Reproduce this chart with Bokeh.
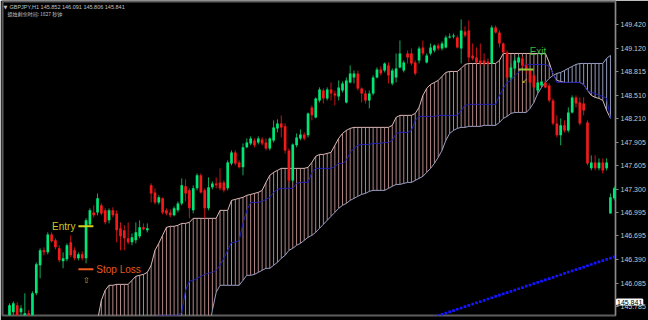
from bokeh.plotting import figure
from bokeh.models import Range1d, FixedTicker, PrintfTickFormatter, Label
from bokeh.core.properties import value
from bokeh.embed import file_html
from bokeh.resources import INLINE

# ---------------- data (GBPJPY H1) ----------------
open_ = [145.542, 145.709, 145.800, 145.709, 145.645, 145.696, 145.580, 145.954, 146.316, 146.509,
         146.483, 146.715, 146.638, 146.535, 146.367, 146.393, 146.612, 146.509, 146.406, 146.457,
         146.406, 146.844, 146.999, 146.999, 147.090, 147.025, 146.896, 147.025, 146.986, 146.793,
         146.767, 146.664, 146.612, 146.638, 146.690, 146.806, 146.767, 147.348, 147.257, 147.128,
         147.180, 147.025, 146.999, 146.961, 147.025, 147.115, 147.335, 147.283, 147.025, 147.309,
         147.477, 147.283, 147.051, 147.322, 147.373, 147.386, 147.386, 147.309, 147.631, 147.773,
         147.644, 147.580, 147.838, 147.889, 147.928, 147.902, 147.941, 147.902, 147.825, 147.928,
         148.083, 148.147, 148.109, 147.799, 147.412, 147.864, 147.954, 148.005, 147.993, 148.354,
         148.225, 148.444, 148.573, 148.470, 148.586, 148.534, 148.496, 148.573, 148.418, 148.676,
         148.741, 148.792, 148.599, 148.534, 148.444, 148.534, 148.741, 148.844, 148.831, 148.896,
         148.663, 148.741, 148.870, 148.831, 149.050, 149.050, 148.934, 148.960, 149.128, 148.934,
         149.050, 149.089, 149.154, 149.115, 149.128, 149.257, 149.270, 149.257, 149.115, 149.334,
         149.347, 149.025, 148.999, 148.960, 148.960, 148.947, 148.921, 149.386, 149.321, 149.179,
         149.063, 148.741, 148.857, 148.934, 148.986, 148.896, 148.844, 148.767, 148.573, 148.638,
         148.676, 148.638, 148.444, 148.147, 147.993, 148.122, 148.057, 148.289, 148.483, 148.418,
         148.405, 148.160, 147.567, 147.644, 147.567, 147.644, 147.567, 146.986, 147.180]
high = [145.825, 145.851, 145.838, 145.800, 145.954, 145.735, 145.980, 146.354, 146.535, 146.548,
        146.741, 146.741, 146.664, 146.574, 146.483, 146.599, 146.703, 146.548, 146.483, 146.496,
        146.922, 147.051, 147.090, 147.244, 147.115, 147.051, 147.051, 147.064, 147.025, 146.870,
        146.832, 146.870, 146.728, 146.870, 146.896, 146.857, 146.857, 147.373, 147.309, 147.219,
        147.193, 147.051, 147.038, 147.077, 147.141, 147.438, 147.425, 147.309, 147.348, 147.502,
        147.502, 147.309, 147.451, 147.399, 147.451, 147.567, 147.412, 147.670, 147.799, 147.799,
        147.670, 147.889, 147.954, 147.980, 147.954, 147.980, 147.967, 147.954, 147.967, 148.186,
        148.199, 148.251, 148.147, 147.825, 147.889, 148.018, 148.070, 148.031, 148.289, 148.380,
        148.483, 148.612, 148.599, 148.612, 148.676, 148.573, 148.702, 148.689, 148.741, 148.896,
        148.831, 148.831, 148.612, 148.573, 148.573, 148.767, 148.870, 148.883, 148.934, 148.934,
        148.857, 149.050, 149.218, 148.960, 149.089, 149.115, 148.960, 149.141, 149.218, 149.050,
        149.179, 149.166, 149.179, 149.205, 149.283, 149.308, 149.308, 149.283, 149.489, 149.399,
        149.476, 149.179, 149.128, 149.179, 149.050, 148.986, 149.412, 149.412, 149.347, 149.192,
        149.089, 148.921, 148.999, 149.025, 149.012, 148.921, 148.857, 148.779, 148.702, 148.715,
        148.702, 148.663, 148.470, 148.251, 148.212, 148.186, 148.354, 148.509, 148.509, 148.483,
        148.483, 148.186, 147.734, 147.734, 147.696, 147.696, 147.696, 147.244, 147.335]
low = [145.477, 145.658, 145.503, 145.632, 145.619, 145.503, 145.554, 145.929, 146.148, 146.445,
       146.457, 146.612, 146.522, 146.354, 146.277, 146.367, 146.419, 146.380, 146.380, 146.380,
       146.341, 146.819, 146.935, 146.961, 146.961, 146.844, 146.857, 146.935, 146.612, 146.509,
       146.509, 146.586, 146.574, 146.599, 146.664, 146.767, 146.741, 147.128, 147.102, 147.102,
       146.973, 146.961, 146.935, 146.948, 146.999, 147.090, 147.141, 146.922, 146.986, 147.283,
       147.244, 146.922, 147.025, 147.296, 147.309, 147.283, 147.257, 147.283, 147.606, 147.606,
       147.567, 147.477, 147.825, 147.864, 147.838, 147.876, 147.864, 147.799, 147.799, 147.902,
       148.031, 147.967, 147.760, 147.386, 147.386, 147.838, 147.928, 147.928, 147.967, 148.186,
       148.212, 148.418, 148.405, 148.444, 148.444, 148.380, 148.444, 148.547, 148.405, 148.663,
       148.663, 148.573, 148.418, 148.405, 148.341, 148.509, 148.728, 148.767, 148.805, 148.663,
       148.638, 148.676, 148.857, 148.805, 148.921, 148.896, 148.767, 148.921, 149.025, 148.921,
       149.025, 149.063, 149.089, 149.089, 149.115, 149.244, 149.244, 149.115, 148.921, 149.257,
       148.934, 148.960, 148.921, 148.896, 148.896, 148.896, 148.921, 149.308, 149.128, 149.050,
       148.728, 148.702, 148.831, 148.921, 148.870, 148.792, 148.663, 148.599, 148.547, 148.612,
       148.599, 148.418, 148.122, 147.967, 147.864, 148.031, 148.031, 148.276, 148.354, 148.122,
       148.251, 147.606, 147.541, 147.541, 147.541, 147.502, 147.541, 146.986, 147.154]
close = [145.800, 145.825, 145.542, 145.761, 145.696, 145.542, 145.954, 146.328, 146.509, 146.483,
         146.715, 146.625, 146.548, 146.380, 146.406, 146.574, 146.445, 146.406, 146.457, 146.406,
         146.896, 147.025, 146.961, 147.180, 146.986, 146.870, 147.025, 146.961, 146.767, 146.690,
         146.664, 146.612, 146.677, 146.741, 146.806, 146.780, 146.793, 147.244, 147.128, 147.193,
         146.999, 146.986, 146.961, 147.051, 147.115, 147.348, 147.244, 147.051, 147.309, 147.477,
         147.257, 147.051, 147.322, 147.373, 147.348, 147.309, 147.283, 147.644, 147.773, 147.631,
         147.580, 147.838, 147.902, 147.954, 147.864, 147.954, 147.889, 147.825, 147.954, 148.096,
         148.147, 148.096, 147.799, 147.412, 147.876, 147.967, 148.005, 147.954, 148.276, 148.251,
         148.470, 148.586, 148.470, 148.586, 148.534, 148.509, 148.612, 148.663, 148.702, 148.792,
         148.792, 148.599, 148.534, 148.444, 148.534, 148.741, 148.844, 148.792, 148.921, 148.767,
         148.831, 148.857, 149.050, 148.934, 148.999, 148.921, 148.792, 149.115, 149.050, 149.025,
         149.128, 149.154, 149.115, 149.179, 149.257, 149.270, 149.283, 149.128, 149.347, 149.283,
         148.999, 148.986, 148.934, 148.921, 148.921, 148.921, 149.386, 149.321, 149.179, 149.063,
         148.741, 148.870, 148.960, 148.999, 148.896, 148.831, 148.676, 148.612, 148.676, 148.689,
         148.612, 148.444, 148.147, 147.993, 148.122, 148.057, 148.289, 148.483, 148.405, 148.147,
         148.315, 147.631, 147.644, 147.567, 147.644, 147.541, 147.644, 147.193, 147.309]

CLOUD_START = 23          # first bar of the cloud
span_a = [145.606, 145.864, 145.993, 146.058, 146.058, 146.070, 146.070, 146.070, 146.070, 146.122,
          146.174, 146.187, 146.199, 146.225, 146.316, 146.509, 146.599, 146.703, 146.806, 146.819,
          146.819, 146.832, 146.857, 146.857, 146.870, 146.922, 146.922, 146.922, 146.922, 146.922,
          146.922, 146.922, 147.025, 147.025, 147.025, 147.154, 147.167, 147.180, 147.193, 147.219,
          147.231, 147.244, 147.257, 147.283, 147.386, 147.477, 147.515, 147.541, 147.567, 147.567,
          147.567, 147.567, 147.567, 147.567, 147.567, 147.580, 147.644, 147.722, 147.747, 147.747,
          147.760, 147.773, 147.864, 147.954, 148.018, 148.057, 148.083, 148.096, 148.096, 148.096,
          148.096, 148.096, 148.096, 148.096, 148.096, 148.096, 148.096, 148.122, 148.225, 148.251,
          148.251, 148.251, 148.251, 148.276, 148.354, 148.509, 148.599, 148.650, 148.676, 148.702,
          148.754, 148.805, 148.818, 148.818, 148.818, 148.857, 148.908, 148.921, 148.921, 148.921,
          148.921, 148.921, 148.921, 148.921, 148.921, 148.960, 149.050, 149.050, 149.050, 149.050,
          149.050, 149.050, 149.050, 149.050, 149.050, 149.050, 149.050, 149.050, 148.934, 148.779,
          148.702, 148.689, 148.676, 148.676, 148.676, 148.676, 148.676, 148.650, 148.573, 148.509,
          148.483, 148.470, 148.444, 148.315, 148.212]
span_b = [145.350, 145.350, 145.350, 145.350, 145.350, 145.350, 145.350, 145.350, 145.350, 145.350,
          145.350, 145.350, 145.350, 145.350, 145.350, 145.450, 145.450, 145.450, 145.450, 145.450,
          145.450, 145.450, 145.450, 145.450, 145.450, 145.450, 145.450, 145.450, 145.450, 145.450,
          145.735, 145.967, 146.058, 146.058, 146.058, 146.058, 146.058, 146.058, 146.122, 146.187,
          146.187, 146.199, 146.225, 146.251, 146.277, 146.277, 146.316, 146.354, 146.406, 146.445,
          146.509, 146.535, 146.574, 146.599, 146.638, 146.677, 146.703, 146.741, 146.793, 146.844,
          146.896, 146.948, 146.999, 147.051, 147.090, 147.115, 147.154, 147.180, 147.206, 147.231,
          147.244, 147.270, 147.283, 147.283, 147.283, 147.283, 147.309, 147.335, 147.360, 147.360,
          147.373, 147.386, 147.386, 147.412, 147.438, 147.464, 147.515, 147.567, 147.631, 147.709,
          147.799, 147.928, 148.018, 148.057, 148.083, 148.096, 148.096, 148.109, 148.109, 148.109,
          148.109, 148.122, 148.122, 148.122, 148.122, 148.160, 148.212, 148.238, 148.276, 148.289,
          148.289, 148.289, 148.289, 148.341, 148.418, 148.534, 148.612, 148.676, 148.728, 148.767,
          148.792, 148.805, 148.831, 148.857, 148.883, 148.908, 148.921, 148.921, 148.921, 148.921,
          148.921, 148.921, 148.921, 148.986, 149.025]

BLUE_START = 38
blue_line = [145.632, 145.670, 145.670, 145.670, 145.670, 145.670, 145.670, 145.709, 145.993, 146.109,
             146.122, 146.148, 146.174, 146.199, 146.212, 146.225, 146.251, 146.316, 146.406, 146.509,
             146.612, 146.612, 146.638, 146.857, 147.025, 147.128, 147.128, 147.128, 147.141, 147.167,
             147.193, 147.257, 147.296, 147.309, 147.309, 147.309, 147.309, 147.373, 147.386, 147.386,
             147.386, 147.515, 147.567, 147.567, 147.567, 147.567, 147.567, 147.593, 147.631, 147.631,
             147.670, 147.773, 147.825, 147.864, 147.876, 147.876, 147.876, 147.889, 147.889, 147.889,
             147.902, 147.902, 147.928, 148.018, 148.031, 148.031, 148.031, 148.057, 148.186, 148.238,
             148.238, 148.238, 148.238, 148.238, 148.251, 148.251, 148.251, 148.251, 148.251, 148.251,
             148.315, 148.380, 148.393, 148.393, 148.393, 148.393, 148.393, 148.393, 148.393, 148.393,
             148.509, 148.599, 148.676, 148.702, 148.767, 148.805, 148.883, 148.908, 148.908, 148.908,
             148.908, 148.908, 148.908, 148.883, 148.792, 148.676, 148.676, 148.676, 148.676, 148.676,
             148.676, 148.676, 148.650, 148.573, 148.547, 148.534, 148.509, 148.496, 148.470, 148.212]

MA_START = 108
ma_dots = [145.600, 145.617, 145.633, 145.650, 145.666, 145.683, 145.699, 145.716, 145.732, 145.749,
           145.765, 145.782, 145.798, 145.815, 145.831, 145.848, 145.864, 145.881, 145.897, 145.914,
           145.930, 145.947, 145.963, 145.980, 145.996, 146.013, 146.029, 146.046, 146.062, 146.079,
           146.095, 146.112, 146.128, 146.145, 146.161, 146.178, 146.194, 146.211, 146.227, 146.244,
           146.260, 146.277, 146.293, 146.310, 146.326, 146.343, 146.359, 146.376, 146.392, 146.409,
           146.425]

y_ticks = [149.420, 149.120, 148.815, 148.510, 148.210, 147.905, 147.605, 147.300,
           146.995, 146.695, 146.390, 146.085, 145.785]

entry_price = 146.82
stop_price = 146.265
exit_price = 148.844
last_price = 145.841
header_text = "GBPJPY,H1  145.852 146.091 145.806 145.841"
header_text2 = "蜡烛剩余时间: 1827 秒钟"

# ---------------- layout helpers (pixel -> data) ----------------
PX_PER_BAR = 3.834
PX_PER_PRICE = 77.48
FRAME_TOP, FRAME_BOTTOM = 1, 315          # frame edges in page pixels
X0, X1 = -1.83, 158.32
Y1 = 149.7336 - FRAME_TOP / PX_PER_PRICE
Y0 = 149.7336 - FRAME_BOTTOM / PX_PER_PRICE


def bx(px):
    return (px - 9.0) / PX_PER_BAR


def py(pxy):
    return 149.7336 - pxy / PX_PER_PRICE


p = figure(width=648, height=320, output_backend="svg", toolbar_location=None,
           x_range=Range1d(X0, X1), y_range=Range1d(Y0, Y1),
           x_axis_location=None, y_axis_location="right",
           min_border_left=2, min_border_right=32, min_border_top=FRAME_TOP,
           min_border_bottom=320 - FRAME_BOTTOM,
           background_fill_color="black", border_fill_color="black",
           outline_line_color="#5e5e5e", outline_line_width=2)
p.grid.grid_line_color = None

ax = p.yaxis[0]
ax.ticker = FixedTicker(ticks=y_ticks)
ax.formatter = PrintfTickFormatter(format="%.3f")
ax.major_label_text_font = "Liberation Sans"
ax.major_label_text_font_size = "7px"
ax.major_label_text_color = "#c8c8c8"
ax.axis_line_color = "#8a8a8a"
ax.major_tick_line_color = "#8a8a8a"
ax.major_tick_out = 3
ax.major_tick_in = 0
ax.minor_tick_out = 0
ax.minor_tick_in = 0
ax.major_label_standoff = 2

# ---------------- cloud ----------------
cloud_x = list(range(CLOUD_START, CLOUD_START + len(span_a)))
hatch_col = ["#c49494" if a >= b else "#a2aacd" for a, b in zip(span_a, span_b)]
p.segment(x0=cloud_x, y0=span_a, x1=cloud_x, y1=span_b, color=hatch_col, line_width=0.9)
p.line(cloud_x, span_a, color="#dcb8b8", line_width=1)
p.line(cloud_x, span_b, color="#9a9fc4", line_width=1)

blue_x = list(range(BLUE_START, BLUE_START + len(blue_line)))
p.line(blue_x, blue_line, color="#2020b4", line_width=1)

ma_x = list(range(MA_START, MA_START + len(ma_dots)))
p.scatter(ma_x, ma_dots, marker="square", size=2.7, fill_color="#1414ff", line_color=None)

# ---------------- candles ----------------
n = len(open_)
xs = list(range(n))
up = [c >= o for o, c in zip(open_, close)]
body_col = ["#00e676" if u else "#f21a1a" for u in up]
wick_col = ["#13a85a" if u else "#c81414" for u in up]
tops = [max(o, c) for o, c in zip(open_, close)]
bots = [min(o, c) for o, c in zip(open_, close)]
p.segment(x0=xs, y0=high, x1=xs, y1=low, color=wick_col, line_width=1)
p.vbar(x=xs, width=0.7, top=tops, bottom=bots, fill_color=body_col, line_color=None)

# ---------------- trade annotations ----------------
p.segment(x0=[bx(78)], y0=[entry_price], x1=[bx(93)], y1=[entry_price], color="#d2d21e", line_width=2)
p.text(x=[bx(75)], y=[entry_price], text=["Entry"], text_align="right", text_baseline="middle",
       text_font=value("Liberation Sans"), text_font_size="10px", text_color="#c8c828")
p.segment(x0=[bx(78)], y0=[stop_price], x1=[bx(93)], y1=[stop_price], color="#f05a1e", line_width=2)
p.text(x=[bx(96)], y=[stop_price], text=["Stop Loss"], text_align="left", text_baseline="middle",
       text_font=value("Liberation Sans"), text_font_size="10px", text_color="#e8561e")
p.text(x=[bx(86)], y=[py(280)], text=["⇧"], text_align="center", text_baseline="middle",
       text_font=value("DejaVu Sans"), text_font_size="8px", text_color="#b4b428")
p.segment(x0=[bx(519)], y0=[exit_price], x1=[bx(534)], y1=[exit_price], color="#8cc83c", line_width=2)
p.text(x=[bx(530)], y=[py(51)], text=["Exit"], text_align="left", text_baseline="middle",
       text_font=value("Liberation Sans"), text_font_size="10px", text_color="#3cb43c")
p.text(x=[bx(525)], y=[py(80)], text=["↙"], text_align="center", text_baseline="middle",
       text_font=value("DejaVu Sans"), text_font_size="7px", text_color="#d8d820")

# ---------------- header ----------------
p.text(x=[bx(3)], y=[py(6)], text=["▼"], text_align="left", text_baseline="middle",
       text_font=value("DejaVu Sans"), text_font_size="5px", text_color="#c0c0c0")
p.text(x=[bx(9)], y=[py(6)], text=[header_text], text_align="left", text_baseline="middle",
       text_font=value("Liberation Sans"), text_font_size="5.5px", text_color="#c0c0c0")
p.text(x=[bx(7)], y=[py(12.5)], text=[header_text2], text_align="left", text_baseline="middle",
       text_font=value("Noto Sans CJK SC"), text_font_size="5px", text_color="#c0c0c0")

# ---------------- last price box on the axis ----------------
# lives in the bottom side panel so that it is not clipped to the frame; positioned in data units
price_box = Label(x=X1 + 1.5 / PX_PER_BAR, y=last_price, x_units="data", y_units="data",
                  text=f"{last_price:.3f}", text_font="Liberation Sans", text_font_size="7px",
                  text_color="black", text_baseline="middle", text_align="left",
                  text_line_height=0.05, padding=0,
                  background_fill_color="white",
                  border_line_color="white", border_line_width=2)
p.add_layout(price_box, "below")

open("out.html", "w").write(file_html(p, INLINE))
